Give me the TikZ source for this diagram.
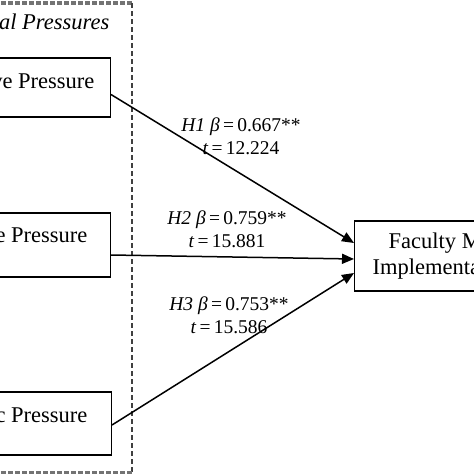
\documentclass[tikz,border=0pt]{standalone}
\usepackage{fontspec}
\setmainfont{Liberation Serif}
\usetikzlibrary{arrows.meta,calc}
\begin{document}
\begin{tikzpicture}[x=1pt,y=-1pt,
  box/.style={draw,line width=1.3pt,rectangle,font=\fontsize{22.5}{26}\selectfont,inner ysep=0pt,text height=15pt},
  lbl/.style={font=\fontsize{19.5}{23}\selectfont,align=center,inner sep=0pt},
  conn/.style={line width=1.5pt,-{Triangle[length=12pt,width=10pt]}},
  frameh/.style={line width=3.5pt,draw=black!55,dash pattern=on 5pt off 2pt},
  framev/.style={line width=1.1pt,draw=black!75,dash pattern=on 5pt off 3pt}]
\useasboundingbox (0,0) rectangle (474,474);
\clip (0,0) rectangle (474,474);
\fill[white] (0,0) rectangle (474,474);
% dashed group frame
\draw[frameh] (-20,3) -- (132,3);
\draw[framev] (132,3) -- (132,473);
\draw[frameh] (-20,473) -- (132,473);
\node[anchor=base east,inner sep=0pt,font=\fontsize{22.5}{26}\selectfont\itshape] (hdr) at (109.5,29.5) {Institutional Pressures};
% boxes
\node[box,anchor=east,minimum height=59pt,inner xsep=16pt,text depth=14pt] (b1) at (111,87.5) {Coercive Pressure};
\node[box,anchor=east,minimum height=64pt,inner xsep=23pt,text depth=20pt] (b2) at (111,245) {Normative Pressure};
\node[box,anchor=east,minimum height=63pt,inner xsep=24pt,text depth=18pt] (b3) at (112,423.5) {Mimetic Pressure};
\node[box,anchor=west,minimum height=70pt,inner xsep=18pt,align=left,text height=,text depth=] (fm) at (354,256) {\hspace*{16pt}Faculty Members’\\Implementation};
% connectors
\draw[conn] ($(b1.east)+(0,7)$) -- ($(fm.west)+(0,-13)$);
\draw[conn] ($(b2.east)+(0,10)$) -- ($(fm.west)+(0,3)$);
\draw[conn] ($(b3.east)+(0,1.5)$) -- ($(fm.west)+(0,17)$);
% labels
\node[lbl] (l1) at (241,136) {\textit{H1 β}\,=\,0.667**\\\textit{t}\,=\,12.224};
\node[lbl] (l2) at (227,229) {\textit{H2 β}\,=\,0.759**\\\textit{t}\,=\,15.881};
\node[lbl] (l3) at (229,315) {\textit{H3 β}\,=\,0.753**\\\textit{t}\,=\,15.586};
\end{tikzpicture}
\end{document}
